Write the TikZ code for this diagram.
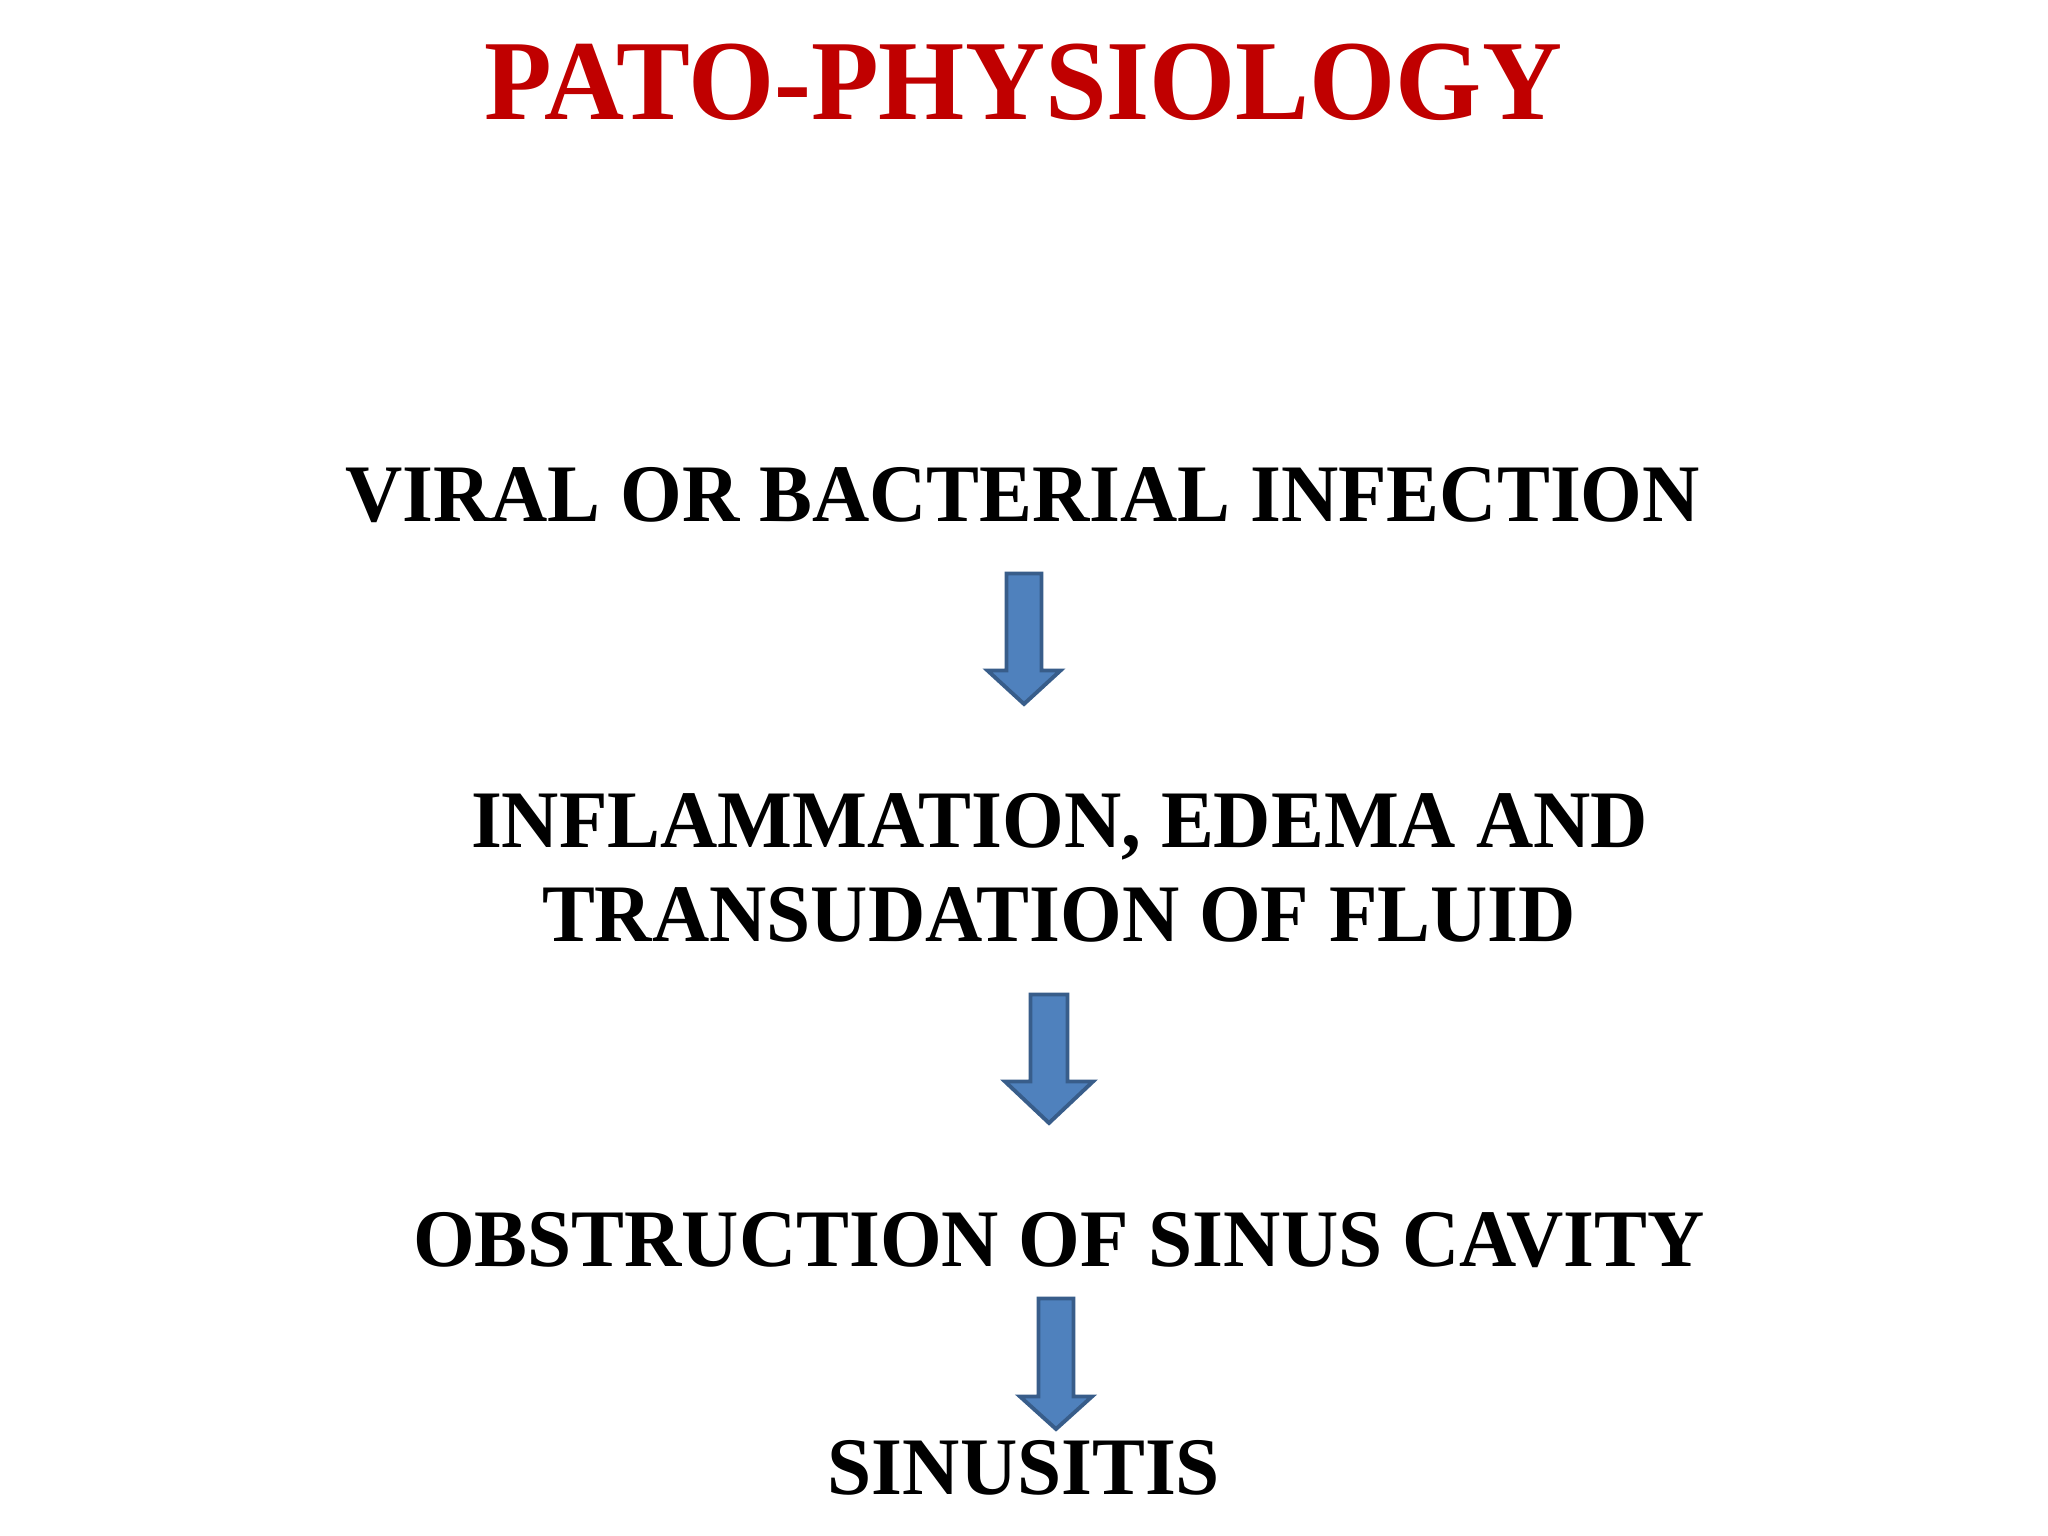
\documentclass[tikz,border=0pt]{standalone}
\usepackage{fontspec}
\setmainfont{Liberation Serif}
\usetikzlibrary{calc}
\definecolor{titlered}{HTML}{C00000}
\definecolor{arrowfill}{HTML}{4F81BD}
\definecolor{arrowline}{HTML}{385D8A}
\newcommand\blockarrow[5]{%
  \draw[blk] ($(#1)+(-#3,0)$) -- ($(#1)+(#3,0)$) -- ($(#2)+(#3,-#5)$) -- ($(#2)+(#4,-#5)$) -- (#2)
    -- ($(#2)+(-#4,-#5)$) -- ($(#2)+(-#3,-#5)$) -- cycle;}
\newcommand\tallish[1]{\scalebox{1}[1.03]{#1}}
\tikzset{
  lbl/.style={anchor=base, inner sep=0pt, font=\fontsize{22.55pt}{27.3pt}\selectfont\bfseries},
  ttl/.style={anchor=base, inner sep=0pt, text=titlered, font=\fontsize{31.5pt}{36pt}\selectfont\bfseries},
  blk/.style={fill=arrowfill, draw=arrowline, line width=1.1pt, line join=miter}
}
\begin{document}
\begin{tikzpicture}[x=0.01cm,y=-0.01cm]
\useasboundingbox (0,0) rectangle (2048,1536);
\fill[white] (0,0) rectangle (2048,1536);
\node[ttl] (title) at (1023.5,119) {\tallish{PATO-PHYSIOLOGY}};
\node[lbl] (r1) at (1022.5,521) {\tallish{VIRAL OR BACTERIAL INFECTION}};
\node[lbl] (r2a) at (1059.5,847) {\tallish{INFLAMMATION, EDEMA AND}};
\node[lbl] (r2b) at (1059,941) {\tallish{TRANSUDATION OF FLUID}};
\node[lbl] (r3) at (1059,1266) {\tallish{OBSTRUCTION OF SINUS CAVITY}};
\node[lbl] (r4) at (1024,1494) {\tallish{SINUSITIS}};
\coordinate (a1s) at (1024,573.5);
\coordinate (a1e) at (1024,704);
\coordinate (a2s) at (1049,994.5);
\coordinate (a2e) at (1049,1123);
\coordinate (a3s) at (1056,1298.5);
\coordinate (a3e) at (1056,1429);
\blockarrow{a1s}{a1e}{17.5}{36.5}{33.5}
\blockarrow{a2s}{a2e}{18.5}{44}{41.5}
\blockarrow{a3s}{a3e}{17.5}{36}{32.5}
\end{tikzpicture}
\end{document}
